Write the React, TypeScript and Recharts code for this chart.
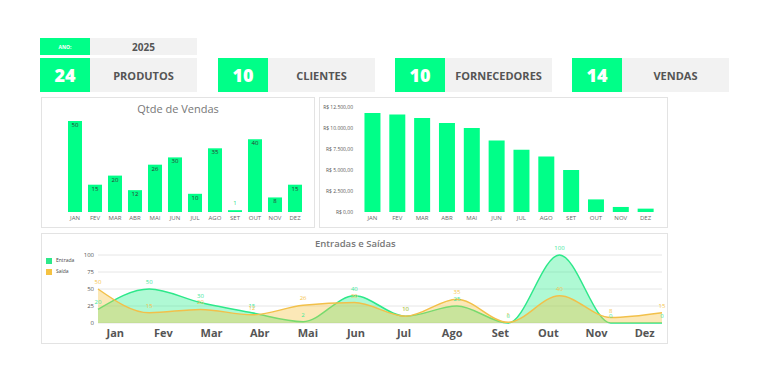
import React from "react"
import { Area, AreaChart, Bar, BarChart, CartesianGrid, LabelList, XAxis, YAxis } from "recharts"

const meses = ["JAN", "FEV", "MAR", "ABR", "MAI", "JUN", "JUL", "AGO", "SET", "OUT", "NOV", "DEZ"]
const mesesCurtos = ["Jan", "Fev", "Mar", "Abr", "Mai", "Jun", "Jul", "Ago", "Set", "Out", "Nov", "Dez"]
const qtdeVendas = [50, 15, 20, 12, 26, 30, 10, 35, 1, 40, 8, 15]
const valorVendas = [11800, 11600, 11200, 10600, 10000, 8500, 7400, 6600, 5000, 1500, 600, 400]
const entradas = [20, 50, 30, 15, 2, 40, 10, 25, 0, 100, 0, 0]
const saidas = [50, 15, 20, 12, 26, 30, 10, 35, 1, 40, 8, 15]
const valorTicks = [0, 2500, 5000, 7500, 10000, 12500]
const fluxoTicks = [0, 25, 50, 75, 100]

const kpis = [
    { valor: "24", nome: "PRODUTOS", left: 40 },
    { valor: "10", nome: "CLIENTES", left: 218 },
    { valor: "10", nome: "FORNECEDORES", left: 395 },
    { valor: "14", nome: "VENDAS", left: 572 },
]

const VERDE = "#00ff88"
const FONT = "'Open Sans', 'DejaVu Sans', sans-serif"

const qtdeData = meses.map((m, i) => ({ mes: m, qtde: qtdeVendas[i] }))
const valorData = meses.map((m, i) => ({ mes: m, valor: valorVendas[i] }))
const fluxoData = mesesCurtos.map((m, i) => ({ idx: i, mes: m, entrada: entradas[i], saida: saidas[i] }))

const brl = (v: number) =>
    "R$ " + v.toLocaleString("pt-BR", { minimumFractionDigits: 2, maximumFractionDigits: 2 })

const QtdeLabel = (props: any) => {
    const { x, y, width, height, value } = props
    const small = height < 8
    return (
        <text
            x={x + width / 2}
            y={small ? y - 5 : y + 6}
            textAnchor="middle"
            fontSize={6}
            fontFamily={FONT}
            fill={small ? "#2de08a" : "#333"}
        >
            {value}
        </text>
    )
}

// sem quebra de linha no rótulo de moeda
const ValorTick = (props: any) => {
    const { x, y, payload } = props
    return (
        <text x={x} y={y} dy={2} textAnchor="end" fontSize={5} fontFamily={FONT} fill="#555">
            {brl(payload.value)}
        </text>
    )
}

const panel: React.CSSProperties = {
    position: "absolute",
    background: "#fff",
    border: "1px solid #e3e3e3",
    boxSizing: "border-box",
}

export default function App() {
    return (
        <div style={{ position: "absolute", left: 0, top: 0, width: 768, height: 378, background: "#fff", fontFamily: FONT }}>
            {/* ano */}
            <div style={{ position: "absolute", left: 40, top: 38, width: 50, height: 17, background: VERDE, color: "#fff", fontSize: 5, fontWeight: 700, display: "flex", alignItems: "center", justifyContent: "center" }}>
                ANO:
            </div>
            <div style={{ position: "absolute", left: 90, top: 38, width: 107, height: 17, background: "#f2f2f2", color: "#555", fontSize: 10, fontWeight: 700, display: "flex", alignItems: "center", justifyContent: "center" }}>
                2025
            </div>

            {kpis.map((k) => (
                <React.Fragment key={k.nome}>
                    <div style={{ position: "absolute", left: k.left, top: 58, width: 50, height: 34, background: VERDE, color: "#fff", fontSize: 18, fontWeight: 800, display: "flex", alignItems: "center", justifyContent: "center" }}>
                        {k.valor}
                    </div>
                    <div style={{ position: "absolute", left: k.left + 50, top: 58, width: 107, height: 34, background: "#f2f2f2", color: "#555", fontSize: 11, fontWeight: 700, display: "flex", alignItems: "center", justifyContent: "center" }}>
                        {k.nome}
                    </div>
                </React.Fragment>
            ))}

            {/* Qtde de Vendas */}
            <div style={{ ...panel, left: 41, top: 97, width: 274, height: 131 }}>
                <div style={{ position: "absolute", left: 0, right: 0, top: 3, textAlign: "center", fontSize: 11, color: "#777" }}>
                    Qtde de Vendas
                </div>
                <div style={{ position: "absolute", left: -1, top: -1 }}>
                    <BarChart width={274} height={131} data={qtdeData} margin={{ top: 24, right: 10, bottom: 0, left: 24 }} barSize={14}>
                        <XAxis dataKey="mes" height={16} axisLine={false} tickLine={false} tickSize={0} tickMargin={4} tick={{ fontSize: 6, fill: "#666" }} interval={0} />
                        <YAxis hide domain={[0, 50]} />
                        <Bar dataKey="qtde" fill={VERDE} isAnimationActive={false}>
                            <LabelList dataKey="qtde" content={<QtdeLabel />} />
                        </Bar>
                    </BarChart>
                </div>
            </div>

            {/* Valor de vendas */}
            <div style={{ ...panel, left: 319, top: 97, width: 349, height: 131 }}>
                <div style={{ position: "absolute", left: -1, top: -1 }}>
                    <BarChart width={349} height={131} data={valorData} margin={{ top: 10, right: 10, bottom: 0, left: 0 }} barCategoryGap="18%">
                        <XAxis dataKey="mes" height={16} axisLine={false} tickLine={false} tickSize={0} tickMargin={4} tick={{ fontSize: 6, fill: "#666" }} interval={0} />
                        <YAxis width={41} domain={[0, 12500]} ticks={valorTicks} interval={0} axisLine={false} tickLine={false} tickSize={0} tickMargin={7} tick={<ValorTick />} />
                        <Bar dataKey="valor" fill={VERDE} isAnimationActive={false} />
                    </BarChart>
                </div>
            </div>

            {/* Entradas e Saídas */}
            <div style={{ ...panel, left: 41, top: 233, width: 627, height: 111 }}>
                <div style={{ position: "absolute", left: 273, top: 3, fontSize: 9.5, fontWeight: 600, color: "#777" }}>
                    Entradas e Saídas
                </div>
                <div style={{ position: "absolute", left: 4, top: 21, fontSize: 5, color: "#444", lineHeight: "11px" }}>
                    <div style={{ display: "flex", alignItems: "center" }}>
                        <span style={{ width: 6, height: 6, background: "#2de88a", marginRight: 4 }} />Entrada
                    </div>
                    <div style={{ display: "flex", alignItems: "center" }}>
                        <span style={{ width: 6, height: 6, background: "#f5c242", marginRight: 4 }} />Saída
                    </div>
                </div>
                <div style={{ position: "absolute", left: -1, top: -1 }}>
                    <AreaChart width={627} height={111} data={fluxoData} margin={{ top: 22, right: 6, bottom: 0, left: 0 }}>
                        <CartesianGrid vertical={false} stroke="#e6e6e6" />
                        <XAxis xAxisId="dados" dataKey="idx" type="number" domain={[0, 11]} height={0} hide />
                        <XAxis
                            xAxisId="rotulos"
                            type="number"
                            dataKey="idx"
                            domain={[-0.36, 11.36]}
                            ticks={fluxoData.map((d) => d.idx)}
                            tickFormatter={(v) => mesesCurtos[v] ?? ""}
                            height={21}
                            axisLine={false}
                            tickLine={false}
                            tickSize={0}
                            tickMargin={6}
                            tick={{ fontSize: 11, fontWeight: 700, fill: "#555" }}
                            allowDataOverflow
                        />
                        <YAxis width={57} domain={[0, 100]} ticks={fluxoTicks} interval={0} axisLine={false} tickLine={false} tickSize={0} tickMargin={4} tick={{ fontSize: 6, fill: "#555" }} />
                        <Area xAxisId="dados" type="monotone" dataKey="entrada" stroke="#2de88a" strokeWidth={1.5} fill="#2df08f" fillOpacity={0.38} isAnimationActive={false}>
                            <LabelList dataKey="entrada" position="top" offset={5} fontSize={6} fill="#3de89a" />
                        </Area>
                        <Area xAxisId="dados" type="monotone" dataKey="saida" stroke="#f2c04a" strokeWidth={1.5} fill="#f5c242" fillOpacity={0.38} isAnimationActive={false}>
                            <LabelList dataKey="saida" position="top" offset={5} fontSize={6} fill="#f5c44a" />
                        </Area>
                    </AreaChart>
                </div>
            </div>
        </div>
    )
}
